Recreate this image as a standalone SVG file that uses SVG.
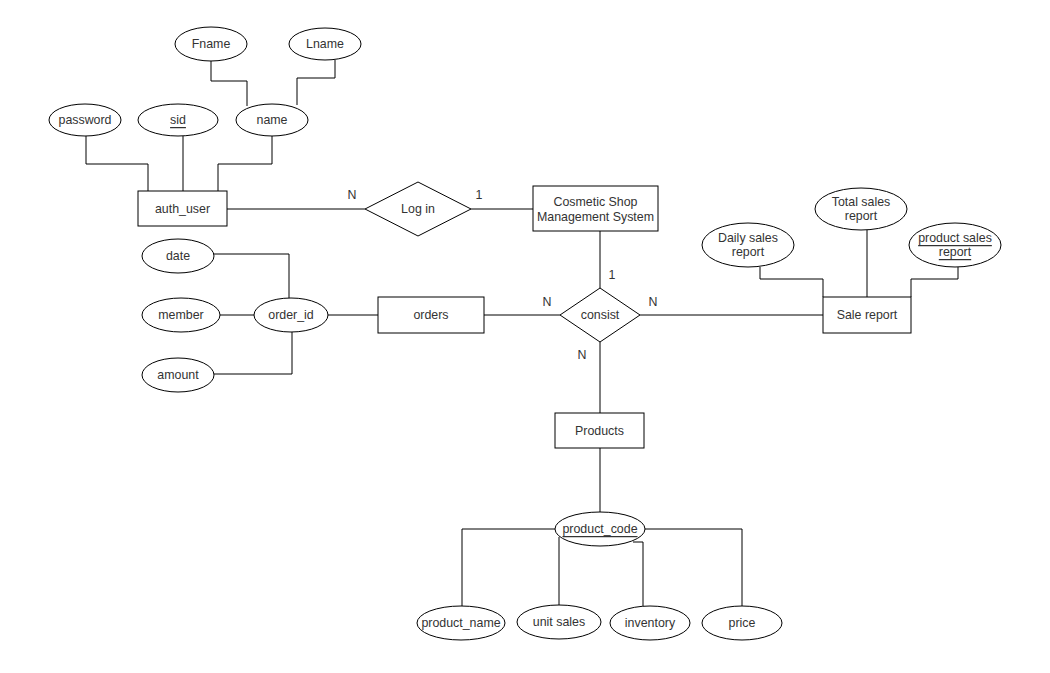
<svg xmlns="http://www.w3.org/2000/svg" width="1050" height="673" viewBox="0 0 1050 673">
<style>
.s{fill:#fff;stroke:#000;stroke-width:1}
.c{fill:none;stroke:#000;stroke-width:1}
text{font-family:"Liberation Sans",Arial,Helvetica,sans-serif;font-size:12.4px;fill:#333;text-anchor:middle;dominant-baseline:central}
.u{text-decoration:underline}
</style>
<rect width="1050" height="673" fill="#fff"/>
<g id="connectors">
<polyline class="c" points="86,136 86,164 148,164 148,191"/>
<polyline class="c" points="183,136 183,191"/>
<polyline class="c" points="272,136 272,164 218,164 218,191"/>
<polyline class="c" points="211,61 211,81 247,81 247,106"/>
<polyline class="c" points="335,60 335,78 297,78 297,105"/>
<line class="c" x1="227" y1="209" x2="365" y2="209"/>
<line class="c" x1="471" y1="209" x2="533" y2="209"/>
<line class="c" x1="600" y1="231" x2="600" y2="288"/>
<line class="c" x1="484" y1="315" x2="560" y2="315"/>
<line class="c" x1="640" y1="315" x2="823" y2="315"/>
<line class="c" x1="600" y1="342" x2="600" y2="413"/>
<line class="c" x1="600" y1="448" x2="600" y2="512"/>
<line class="c" x1="327" y1="315" x2="378" y2="315"/>
<polyline class="c" points="213,254 289,254 289,298"/>
<line class="c" x1="220" y1="315" x2="254" y2="315"/>
<polyline class="c" points="214,374 292,374 292,332"/>
<polyline class="c" points="760,267 760,279 823,279 823,297"/>
<line class="c" x1="867" y1="230" x2="867" y2="297"/>
<polyline class="c" points="958,267 958,279 911,279 911,297"/>
<polyline class="c" points="462,606 462,529 555,529"/>
<line class="c" x1="559" y1="537" x2="559" y2="605"/>
<polyline class="c" points="633,542 643,542 643,606"/>
<polyline class="c" points="742,606 742,529 645,529"/>
</g>
<g id="labels">
<text x="352" y="195">N</text>
<text x="479" y="195">1</text>
<text x="612" y="275">1</text>
<text x="547" y="302">N</text>
<text x="653" y="302">N</text>
<text x="582" y="355">N</text>
</g>
<g id="Fname"><ellipse class="s" cx="211" cy="44" rx="36" ry="17"/><text x="211" y="44">Fname</text></g>
<g id="Lname"><ellipse class="s" cx="325" cy="44" rx="36" ry="16"/><text x="325" y="44">Lname</text></g>
<g id="password"><ellipse class="s" cx="85" cy="120" rx="36" ry="16"/><text x="85" y="120">password</text></g>
<g id="sid"><ellipse class="s" cx="178" cy="120" rx="40" ry="16"/><text class="u" x="178" y="120">sid</text></g>
<g id="name"><ellipse class="s" cx="272" cy="120" rx="36" ry="16"/><text x="272" y="120">name</text></g>
<g id="auth_user"><rect class="s" x="138" y="191" width="89" height="35"/><text x="182.5" y="208.5">auth_user</text></g>
<g id="login"><polygon class="s" points="365,209 418,182 471,209 418,236"/><text x="418" y="209">Log in</text></g>
<g id="csms"><rect class="s" x="533" y="186" width="125" height="45"/><text x="595.5" y="202">Cosmetic Shop</text><text x="595.5" y="217">Management System</text></g>
<g id="consist"><polygon class="s" points="560,315 600,288 640,315 600,342"/><text x="600" y="315">consist</text></g>
<g id="orders"><rect class="s" x="378" y="297" width="106" height="36"/><text x="431" y="315">orders</text></g>
<g id="date"><ellipse class="s" cx="178" cy="256" rx="36" ry="17"/><text x="178" y="256">date</text></g>
<g id="member"><ellipse class="s" cx="181" cy="315" rx="39" ry="17"/><text x="181" y="315">member</text></g>
<g id="amount"><ellipse class="s" cx="178" cy="375" rx="36" ry="17"/><text x="178" y="375">amount</text></g>
<g id="order_id"><ellipse class="s" cx="291" cy="315" rx="37" ry="17"/><text x="291" y="315">order_id</text></g>
<g id="daily"><ellipse class="s" cx="748" cy="245" rx="46" ry="22"/><text x="748" y="238">Daily sales</text><text x="748" y="252">report</text></g>
<g id="total"><ellipse class="s" cx="861" cy="209" rx="46" ry="21"/><text x="861" y="202">Total sales</text><text x="861" y="216">report</text></g>
<g id="productsales"><ellipse class="s" cx="955" cy="245" rx="46" ry="22"/><text class="u" x="955" y="238">product sales</text><text class="u" x="955" y="252">report</text></g>
<g id="salereport"><rect class="s" x="823" y="297" width="88" height="36"/><text x="867" y="315">Sale report</text></g>
<g id="products"><rect class="s" x="555" y="413" width="89" height="35"/><text x="599.5" y="430.5">Products</text></g>
<g id="product_code"><ellipse class="s" cx="600" cy="529" rx="45" ry="17"/><text class="u" x="600" y="529">product_code</text></g>
<g id="product_name"><ellipse class="s" cx="461" cy="623" rx="44" ry="17"/><text x="461" y="623">product_name</text></g>
<g id="unit_sales"><ellipse class="s" cx="559" cy="622" rx="42" ry="17"/><text x="559" y="622">unit sales</text></g>
<g id="inventory"><ellipse class="s" cx="650" cy="623" rx="40" ry="17"/><text x="650" y="623">inventory</text></g>
<g id="price"><ellipse class="s" cx="742" cy="623" rx="40" ry="17"/><text x="742" y="623">price</text></g>
</svg>
